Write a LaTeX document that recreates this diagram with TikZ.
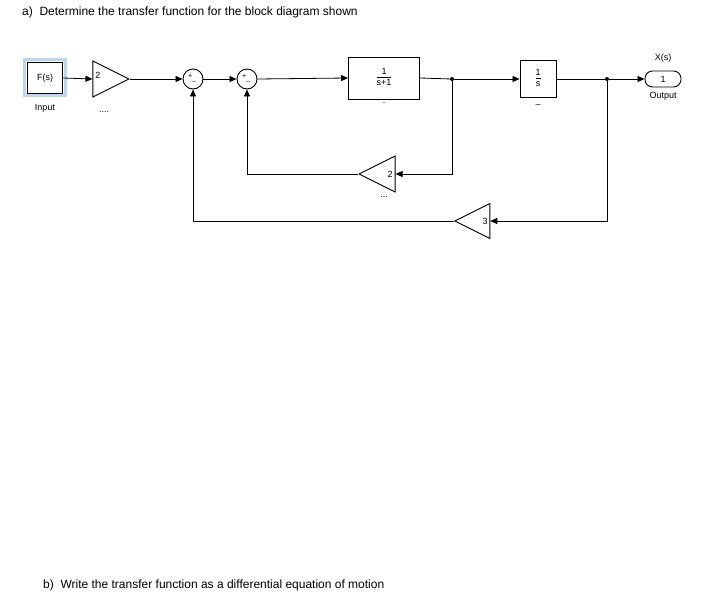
\documentclass[tikz,border=0pt]{standalone}
\usepackage{fontspec}
\setmainfont{Liberation Sans}
\usetikzlibrary{arrows.meta,shapes.geometric}
\newcommand{\myfrac}[2]{\begin{tabular}{@{}c@{}}#1\\[-1pt]\hline\noalign{\vskip1pt}#2\end{tabular}}
\definecolor{halocol}{RGB}{190,215,240}
\begin{document}
\begin{tikzpicture}[x=1pt,y=-1pt,
  every node/.style={inner sep=0pt,font=\fontsize{9}{10}\selectfont},
  blk/.style={draw,fill=white,line width=0.9pt},
  arr/.style={-{Triangle[length=7pt,width=6pt]},line width=0.8pt},
  ln/.style={line width=0.8pt},
  dot/.style={circle,fill,minimum size=4pt},
  gainr/.style={isosceles triangle,isosceles triangle apex angle=53,draw,line width=0.9pt,fill=white,minimum height=36pt,inner sep=0pt},
  gainl/.style={gainr,shape border rotate=180},
  sum/.style={circle,draw,line width=0.9pt,minimum size=20pt}]
\useasboundingbox (0,0) rectangle (708,599);
\node[anchor=west,font=\fontsize{12}{14}\selectfont] (ta) at (22,12) {a)\ \ Determine the transfer function for the block diagram shown};
\node[anchor=west,font=\fontsize{12}{14}\selectfont] (tb) at (43,585) {b)\ \ Write the transfer function as a differential equation of motion};
% input
\node[draw=halocol,line width=3pt,minimum width=41pt,minimum height=36pt] (halo) at (45,78) {};
\node[blk,minimum width=35pt,minimum height=31pt] (F) at (45,78) {F(s)};
\node (inl) at (45,108) {Input};
% gain 2
\node[gainr,minimum height=36pt] (g1) at (104,79) {};
\node (g1t) at (98,75) {2};
\node (g1d) at (104,112) {....};
% sums
\node[sum] (s1) at (193,79) {};
\node[font=\fontsize{7}{7}\selectfont] (s1t) at (192,78) {+\raisebox{-2pt}{\_}};
\node[sum] (s2) at (247,79) {};
\node[font=\fontsize{7}{7}\selectfont] (s2t) at (246,78) {+\raisebox{-2pt}{\_}};
% G1
\node[blk,minimum width=71pt,minimum height=42pt] (G1) at (384,78) {\myfrac{1}{s+1}};
\node (G1d) at (384,103) {.};
\node[dot] (j1) at (452,79) {};
% integrator
\node[blk,minimum width=36pt,minimum height=37pt] (G2) at (538,79) {\myfrac{1}{s}};
\node (G2d) at (538,106) {--};
\node[dot] (j2) at (607,79) {};
% output
\node[draw,rounded corners=7.5pt,line width=0.9pt,minimum width=36pt,minimum height=16pt] (out) at (663,79) {1};
\node (xs) at (663,58) {X(s)};
\node (outl) at (663,96) {Output};
% feedback gains
\node[gainl,minimum height=36pt] (g2) at (384,174) {};
\node (g2t) at (390,174) {2};
\node (g2d) at (384,197) {...};
\node[gainl,minimum height=35pt] (g3) at (479,221) {};
\node (g3t) at (485,221) {3};
\coordinate (c1) at (452,174);
\coordinate (c2) at (247,174);
\coordinate (c3) at (607,221);
\coordinate (c4) at (193,221);
% connectors
\draw[arr] (F.east) -- (g1.west);
\draw[arr] (g1.apex) -- (s1.west);
\draw[arr] (s1.east) -- (s2.west);
\draw[arr] (s2.east) -- (G1.west);
\draw[ln] (G1.east) -- (j1);
\draw[arr] (j1) -- (G2.west);
\draw[ln] (G2.east) -- (j2);
\draw[arr] (j2) -- (out.west);
\draw[arr] (j1) -- (c1) -- (g2.east);
\draw[arr] (g2.apex) -- (c2) -- (s2.south);
\draw[arr] (j2) -- (c3) -- (g3.east);
\draw[arr] (g3.apex) -- (c4) -- (s1.south);
\end{tikzpicture}
\end{document}
